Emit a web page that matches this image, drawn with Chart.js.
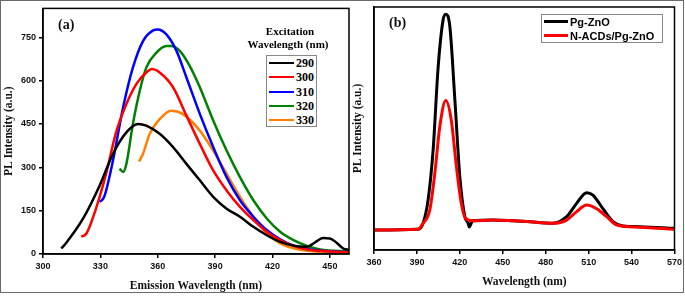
<!DOCTYPE html>
<html>
<head>
<meta charset="utf-8">
<script src="https://cdn.jsdelivr.net/npm/chart.js@4.4.0/dist/chart.umd.min.js"></script>
<style>
  body { margin: 0; background: #fff; }
  #page { position: relative; width: 685px; height: 297px; overflow: hidden; background: #fff; }
  #frame { position: absolute; left: 0; top: 0; width: 682px; height: 291px; border: 1.5px solid #6a6a6a; }
  canvas { position: absolute; top: 0; }
  #chartA { left: 0; }
  #chartB { left: 351px; }
  .tag { position: absolute; font: bold 14px "Liberation Serif", serif; color: #111; }
  .legA { position: absolute; left: 266px; top: 55px; width: 49px; height: 70px; border: 1px solid #888; background: #fff; }
  .legA .row { position: absolute; left: 2px; height: 14px; font: bold 12px "Liberation Serif", serif; line-height: 14px; }
  .legA .ln { position: absolute; left: 0; top: 6px; width: 25px; height: 2px; }
  .legA .tx { position: absolute; left: 27px; top: 0; }
  .legTitle { position: absolute; font: bold 11px "Liberation Serif", serif; text-align: center; width: 100px; }
  .legB { position: absolute; left: 541px; top: 14px; width: 120px; height: 27px; border: 1px solid #888; background: #fff; }
  .legB .row { position: absolute; left: 2px; height: 14px; font: bold 11px "Liberation Sans", Arial, sans-serif; line-height: 14px; }
  .legB .ln { position: absolute; left: 0; top: 5px; width: 24px; height: 3px; }
  .legB .tx { position: absolute; left: 26px; top: 0; white-space: nowrap; }
</style>
</head>
<body>
<div id="page">
  <div id="frame"></div>
  <canvas id="chartA" width="351" height="293"></canvas>
  <canvas id="chartB" width="334" height="293"></canvas>
  <div class="tag" style="left:58px; top:17px;">(a)</div>
  <div class="tag" style="left:389px; top:15px;">(b)</div>
  <div class="legTitle" style="left:240px; top:25px;">Excitation</div>
  <div class="legTitle" style="left:238px; top:38px;">Wavelength (nm)</div>
  <div class="legA" id="legA"></div>
  <div class="legB" id="legB"></div>
</div>
<script>
// Panel (a): PL spectra at different excitation wavelengths
const excitationLabels = ['290', '300', '310', '320', '330'];
const excitationColors = ['#000000', '#ff0000', '#0000ff', '#008000', '#ff8000'];

const x290 = [309.6, 312.2, 321, 329.7, 336.6, 343.6, 349.7, 354, 361, 368, 375, 382, 389, 396, 403, 410, 417, 424, 431, 438, 442, 446.5, 450, 453.5, 457, 460];
const y290 = [19, 39, 123, 238, 347, 421, 450, 444, 416, 370, 312, 255, 198, 157, 129, 94, 65, 42, 29, 25, 39, 55, 54, 39, 19, 14];

const x300 = [320, 322.7, 328, 333, 338, 343.6, 348.8, 354, 357, 361, 368, 375, 382, 389, 396, 403, 410, 417, 424, 431, 438, 445, 460];
const y300 = [60, 71, 163, 278, 416, 519, 588, 628, 640, 628, 577, 479, 381, 289, 220, 163, 117, 77, 48, 28, 16, 11, 5];

const x310 = [329.7, 332, 336.6, 341.9, 347, 352.3, 357.6, 360, 364.5, 369.8, 375, 382, 389, 396, 403, 410, 417, 424, 431, 438, 460];
const y310 = [180, 198, 324, 508, 645, 737, 774, 777, 760, 703, 611, 485, 370, 266, 186, 129, 83, 51, 29, 17, 6];

const x320 = [340, 341.9, 343.6, 347, 350.6, 354, 359.3, 364.5, 367, 371.5, 376.7, 382, 389, 396, 403, 410, 417, 424, 431, 438, 445, 460];
const y320 = [295, 284, 312, 450, 565, 645, 697, 720, 720, 703, 651, 577, 462, 358, 266, 186, 123, 77, 48, 28, 16, 8];

const x330 = [350.2, 352.3, 355.8, 361, 367, 373, 382, 389, 396, 403, 410, 417, 424, 431, 438, 460];
const y330 = [320, 347, 416, 467, 496, 485, 427, 358, 278, 198, 129, 71, 37, 20, 11, 5];

const xTicksA = [300, 330, 360, 390, 420, 450];
const yTicksA = [0, 150, 300, 450, 600, 750];

// Panel (b): Pg-ZnO vs N-ACDs/Pg-ZnO
const seriesLabelsB = ['Pg-ZnO', 'N-ACDs/Pg-ZnO'];
const seriesColorsB = ['#000000', '#ff0000'];

const xPg = [360, 390.8, 394.3, 397.8, 401.3, 404.8, 408.3, 410.2, 413, 416.5, 420, 423.5, 425.8, 426.5, 429, 443, 457, 466.6, 485, 494.6, 501.6, 508.6, 513, 520, 527, 534, 546, 570];
const yPg = [8.2, 8.5, 11, 20.6, 41, 75, 94.7, 97, 92, 62, 30, 13.7, 11, 9.5, 12, 12.3, 12, 11.7, 11, 13.7, 19.2, 23.6, 22.6, 17, 11.7, 9.9, 9.6, 8.9];

const xNA = [360, 390.8, 394.3, 399, 402.5, 406, 410.2, 414, 417.6, 421, 424, 429, 443, 457, 466.6, 485, 494.6, 501.6, 508.6, 515.6, 522.6, 529.6, 546, 570];
const yNA = [8.2, 8.5, 11, 16.5, 31.5, 50.8, 61.5, 53.5, 34.3, 19.2, 13, 12, 12.3, 12, 11.7, 11, 12.3, 15.8, 18.5, 17, 13.7, 10.3, 9.4, 8.5];

const xTicksB = [360, 390, 420, 450, 480, 510, 540, 570];

function pairs(xs, ys) {
    return xs.map((x, i) => ({ x: x, y: ys[i] }));
}

const tickFont = { family: '"Liberation Sans", Arial, sans-serif', weight: 'bold', size: 9 };
const titleFont = { family: '"Liberation Serif", "Times New Roman", serif', weight: 'bold', size: 11.5 };

// stroke the plot frame
const boxPlugin = {
    id: 'box',
    afterDraw(chart) {
        const a = chart.chartArea, ctx = chart.ctx;
        ctx.save();
        ctx.strokeStyle = '#000';
        ctx.lineWidth = 1.5;
        ctx.strokeRect(a.left, a.top, a.right - a.left, a.bottom - a.top);
        ctx.restore();
    }
};

function keepTicks(list) {
    return scale => { scale.ticks = list.map(v => ({ value: v })); };
}

// Chart (a)
const xsA = [x290, x300, x310, x320, x330];
const ysA = [y290, y300, y310, y320, y330];

new Chart(document.getElementById('chartA'), {
    type: 'line',
    data: {
        datasets: excitationLabels.map((lab, i) => ({
            label: lab,
            data: pairs(xsA[i], ysA[i]),
            borderColor: excitationColors[i],
            borderWidth: 2.5,
            pointRadius: 0,
            cubicInterpolationMode: 'monotone',
            fill: false
        }))
    },
    options: {
        responsive: false,
        animation: false,
        layout: { padding: { top: 7, right: 2, left: 0, bottom: 0 } },
        plugins: { legend: { display: false }, tooltip: { enabled: false } },
        scales: {
            x: {
                type: 'linear', min: 300, max: 460,
                afterBuildTicks: keepTicks(xTicksA),
                afterFit: s => { s.height = 39; },
                grid: { drawOnChartArea: false, tickLength: 4, color: '#000', lineWidth: 1.5 },
                border: { color: '#000', width: 1.5 },
                ticks: { font: tickFont, color: '#111', padding: 3, maxRotation: 0 },
                title: { display: true, text: 'Emission Wavelength (nm)', font: titleFont, color: '#111', padding: 0 }
            },
            y: {
                min: 0, max: 850,
                afterBuildTicks: keepTicks(yTicksA),
                afterFit: s => { s.width = 43; },
                grid: { drawOnChartArea: false, tickLength: 4, color: '#000', lineWidth: 1.5 },
                border: { color: '#000', width: 1.5 },
                ticks: { font: tickFont, color: '#111', padding: 3 },
                title: { display: true, text: 'PL Intensity (a.u.)', font: titleFont, color: '#111', padding: { top: 2, bottom: 0 } }
            }
        }
    },
    plugins: [boxPlugin]
});

// Chart (b)
new Chart(document.getElementById('chartB'), {
    type: 'line',
    data: {
        datasets: [
            { label: seriesLabelsB[0], data: pairs(xPg, yPg), borderColor: seriesColorsB[0], order: 1 },
            { label: seriesLabelsB[1], data: pairs(xNA, yNA), borderColor: seriesColorsB[1], order: 0 }
        ].map(d => Object.assign(d, { borderWidth: 3, pointRadius: 0, cubicInterpolationMode: 'monotone', fill: false }))
    },
    options: {
        responsive: false,
        animation: false,
        layout: { padding: { top: 7, right: 10, left: 0, bottom: 0 } },
        plugins: { legend: { display: false }, tooltip: { enabled: false } },
        scales: {
            x: {
                type: 'linear', min: 360, max: 570,
                afterBuildTicks: keepTicks(xTicksB),
                afterFit: s => { s.height = 43; },
                grid: { drawOnChartArea: false, tickLength: 4, color: '#000', lineWidth: 1.5 },
                border: { color: '#000', width: 1.5 },
                ticks: { font: tickFont, color: '#111', padding: 3, maxRotation: 0 },
                title: { display: true, text: 'Wavelength (nm)', font: titleFont, color: '#111', padding: { top: 0, bottom: 4 } }
            },
            y: {
                min: 0, max: 100,
                afterFit: s => { s.width = 23; },
                grid: { display: false },
                border: { color: '#000', width: 1.5 },
                ticks: { display: false },
                title: { display: true, text: 'PL Intensity (a.u.)', font: titleFont, color: '#111', padding: { top: 0, bottom: 0 } }
            }
        }
    },
    plugins: [boxPlugin]
});

// HTML legends built from the series arrays
const legA = document.getElementById('legA');
excitationLabels.forEach((lab, i) => {
    const row = document.createElement('div');
    row.className = 'row';
    row.style.top = (i * 14.3) + 'px';
    row.innerHTML = '<span class="ln" style="background:' + excitationColors[i] + '"></span><span class="tx">' + lab + '</span>';
    legA.appendChild(row);
});
const legB = document.getElementById('legB');
seriesLabelsB.forEach((lab, i) => {
    const row = document.createElement('div');
    row.className = 'row';
    row.style.top = (i * 14) + 'px';
    row.innerHTML = '<span class="ln" style="background:' + seriesColorsB[i] + '"></span><span class="tx">' + lab + '</span>';
    legB.appendChild(row);
});
</script>
</body>
</html>
